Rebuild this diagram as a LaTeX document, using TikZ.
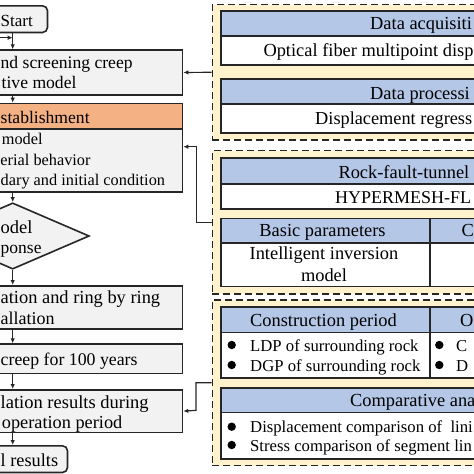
\documentclass[tikz,border=0pt]{standalone}
\usepackage{fontspec}
\setmainfont{Liberation Serif}
\usetikzlibrary{shapes.geometric,arrows.meta,calc}
\definecolor{boxgray}{HTML}{F2F2F2}
\definecolor{hdorange}{HTML}{F4B183}
\definecolor{hdblue}{HTML}{B4C7E7}
\definecolor{cream}{HTML}{FFF2CC}
\definecolor{edge}{HTML}{262626}
\tikzset{
  box/.style={draw=edge, line width=1.6pt, fill=boxgray, inner sep=0pt, anchor=north west},
  dia/.style={draw=edge, line width=1.6pt, fill=boxgray, shape=diamond, inner sep=0pt, minimum width=153.2pt, minimum height=66.3pt},
  frame/.style={draw=edge, dash pattern=on 7pt off 4pt, line width=1.3pt, fill=cream, anchor=north west, inner sep=0pt},
  cell/.style={draw=edge, line width=1.6pt, fill=white, anchor=north west, inner sep=0pt},
  head/.style={cell, fill=hdblue},
  txt/.style={font=\fontsize{18}{20}\selectfont, inner sep=0pt, text=black},
  fs/.style={font=\fontsize{#1}{20}\selectfont},
  hd/.style={font=\fontsize{18.4}{20}\selectfont},
  lst/.style={font=\fontsize{16.7}{20}\selectfont},
  lt/.style={txt, anchor=base west},
  rt/.style={txt, anchor=base west},
  ct/.style={txt, anchor=base},
  arr/.style={draw=edge, line width=1.2pt, -{Latex[length=5pt,width=4.5pt]}},
  dot/.style={fill=black}
}
\begin{document}
\begin{tikzpicture}[x=1pt,y=-1pt]
\useasboundingbox (0,0) rectangle (474,474);
\clip (0,0) rectangle (474,474);
% ---------- left flow ----------
\node[box, rounded corners=5pt, minimum width=56.7pt, minimum height=26.7pt] (start) at (-10,5) {};
\node[box, minimum width=191.7pt, minimum height=44.7pt] (b2) at (-10,49.3) {};
\node[box, fill=hdorange, minimum width=191.7pt, minimum height=25.6pt] (b3h) at (-10,102.7) {};
\node[box, minimum width=191.7pt, minimum height=62.7pt] (b3) at (-10,128.3) {};
\node[dia] (dec) at (12.7,236) {};
\node[box, minimum width=191.7pt, minimum height=43.3pt] (b4) at (-10,285) {};
\node[box, minimum width=191.7pt, minimum height=29.4pt] (b5) at (-10,343.3) {};
\node[box, minimum width=191.7pt, minimum height=42.7pt] (b6) at (-10,389) {};
\node[box, rounded corners=5pt, minimum width=76.7pt, minimum height=26.7pt] (fin) at (-10,445) {};
% left texts
\node[lt, fs=17] (s1) at (0.5,26.5) {Start};
\node[lt, fs=17.6] (s2a) at (0.5,68) {nd screening creep};
\node[lt, fs=17.6] (s2b) at (1.5,88.5) {tive model};
\node[lt, fs=17.6] (s3h) at (0.5,123) {stablishment};
\node[lt, fs=16.3] (s3a) at (1.7,144.5) {model};
\node[lt, fs=16.3] (s3b) at (0.3,165) {erial behavior};
\node[lt, fs=16.3] (s3c) at (0.5,185.5) {dary and initial condition};
\node[lt, fs=18.5] (s4a) at (0.5,233) {odel};
\node[lt, fs=17.5] (s4b) at (0.5,253) {ponse};
\node[lt, fs=18.4] (s5a) at (0.5,303) {ation and ring by ring};
\node[lt, fs=18] (s5b) at (0.5,324.5) {allation};
\node[lt, fs=17.8] (s6) at (0.5,365.5) {creep for 100 years};
\node[lt, fs=18.5] (s7a) at (0.5,408) {lation results during};
\node[lt, fs=18.3] (s7b) at (1.7,428) {operation period};
\node[lt, fs=18.3] (s8) at (0.5,466.5) {l results};
% ---------- right groups ----------
\node[frame, minimum width=290pt, minimum height=135.3pt] (g1) at (211.7,4) {};
\node[frame, minimum width=290pt, minimum height=143.3pt] (g2) at (211.7,150) {};
\node[frame, minimum width=290pt, minimum height=165.7pt] (g3) at (211.7,299.3) {};
% group 1
\node[head, minimum width=280pt, minimum height=25pt] (t1h) at (220,10) {};
\node[cell, minimum width=280pt, minimum height=29.3pt] (t1b) at (220,35) {};
\node[head, minimum width=280pt, minimum height=25pt] (t2h) at (220,78.3) {};
\node[cell, minimum width=280pt, minimum height=29pt] (t2b) at (220,103.3) {};
\node[rt, hd] (r1) at (370,29.5) {Data acquisiti};
\node[rt, fs=18.4] (r2) at (263.3,56.3) {Optical fiber multipoint disp};
\node[rt, hd] (r3) at (370,99.5) {Data processi};
\node[rt, fs=18.3] (r4) at (315,124.5) {Displacement regress};
% group 2
\node[head, minimum width=280pt, minimum height=26pt] (t3h) at (220,157.3) {};
\node[cell, minimum width=280pt, minimum height=25pt] (t3b) at (220,183.3) {};
\node[head, minimum width=209.3pt, minimum height=24.6pt] (t4hl) at (220,217.7) {};
\node[head, minimum width=70pt, minimum height=24.6pt] (t4hr) at (429.3,217.7) {};
\node[cell, minimum width=209.3pt, minimum height=43.4pt] (t4bl) at (220,242.3) {};
\node[cell, minimum width=70pt, minimum height=43.4pt] (t4br) at (429.3,242.3) {};
\node[rt, hd] (r5) at (338.3,178) {Rock-fault-tunnel};
\node[rt, fs=18] (r6) at (335,203) {HYPERMESH-FL};
\node[ct, hd] (r7) at (322.5,236.3) {Basic parameters};
\node[rt, hd] (r7b) at (461.5,236.3) {C};
\node[ct, hd] (r8) at (324,259.5) {Intelligent inversion};
\node[ct, hd] (r9) at (324,281) {model};
% group 3
\node[head, minimum width=209.3pt, minimum height=25.7pt] (t5hl) at (220,306) {};
\node[head, minimum width=70pt, minimum height=25.7pt] (t5hr) at (429.3,306) {};
\node[cell, minimum width=209.3pt, minimum height=45.6pt] (t5bl) at (220,331.7) {};
\node[cell, minimum width=70pt, minimum height=45.6pt] (t5br) at (429.3,331.7) {};
\node[head, minimum width=280pt, minimum height=24.4pt] (t6h) at (220,387.3) {};
\node[cell, minimum width=280pt, minimum height=46.6pt] (t6b) at (220,411.7) {};
\node[ct, hd] (q1) at (323.5,326.3) {Construction period};
\node[rt, hd] (q1b) at (460,326.3) {O};
\fill[dot] (231.7,345) circle (4.2);
\fill[dot] (231.7,365) circle (4.2);
\fill[dot] (439.3,345) circle (4.2);
\fill[dot] (439.3,365) circle (4.2);
\node[rt, lst] (q2) at (250,351) {LDP of surrounding rock};
\node[rt, lst] (q3) at (250,371) {DGP of surrounding rock};
\node[rt, lst] (q2b) at (456,351) {C};
\node[rt, lst] (q3b) at (456,371) {D};
\node[rt, hd] (q4) at (350,406.3) {Comparative ana};
\fill[dot] (231.7,426.7) circle (4.2);
\fill[dot] (231.7,445) circle (4.2);
\node[rt, lst] (q5) at (250,432.7) {Displacement comparison of\ \ lini};
\node[rt, lst] (q6) at (250,451) {Stress comparison of segment lin};
% ---------- connectors ----------
\coordinate (axis) at (12.7,0);
\coordinate (lin) at (-10,37.7);
\draw[arr] (lin) -- (lin -| axis);
\draw[arr] (start.south -| axis) -- (b2.north -| axis);
\draw[arr] (b2.south -| axis) -- (b3h.north -| axis);
\draw[arr] (b3.south -| axis) -- (dec.north);
\draw[arr] (dec.south) -- (b4.north -| axis);
\draw[arr] (b4.south -| axis) -- (b5.north -| axis);
\draw[arr] (b5.south -| axis) -- (b6.north -| axis);
\draw[arr] (b6.south -| axis) -- (fin.north -| axis);
\draw[arr] (g1.west) -- (b2.east);
\coordinate (j2) at (196.7,146.7);
\draw[arr] (g2.west) -| (j2) -- (j2 -| b3.east);
\coordinate (j3) at (196,410.35);
\draw[arr] (g3.west) -| (j3) -- (b6.east);
\end{tikzpicture}
\end{document}
